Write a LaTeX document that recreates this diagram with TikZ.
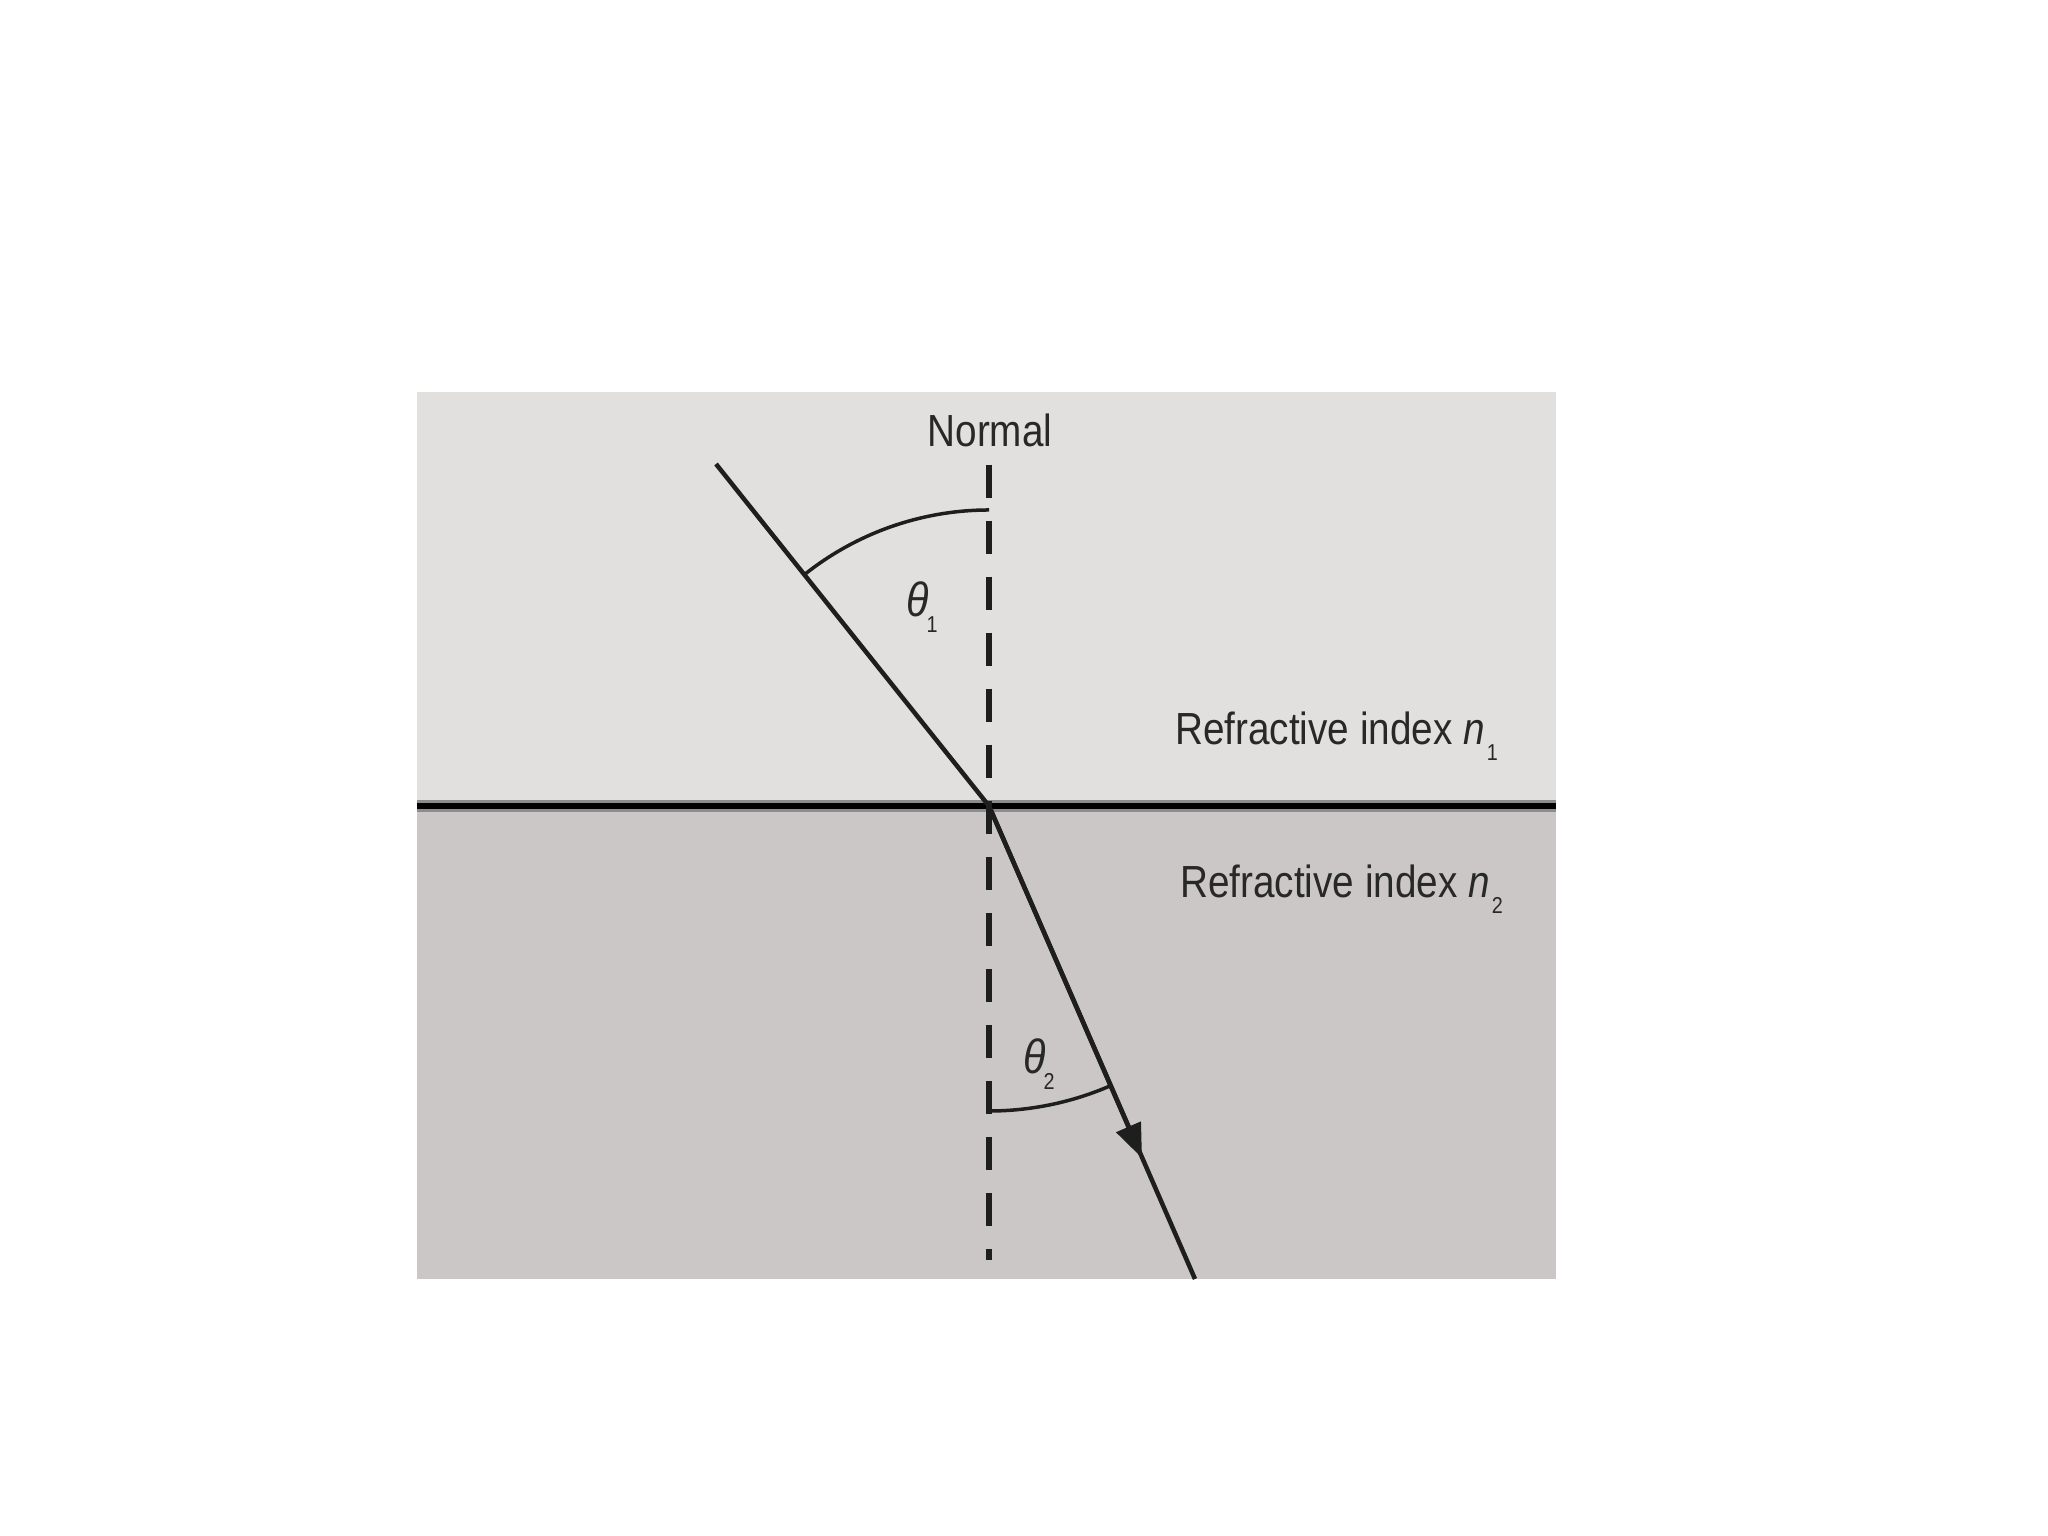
\documentclass[tikz,border=0pt]{standalone}
\usepackage{fontspec}
\setmainfont{Liberation Sans}[FakeStretch=0.86]
\usetikzlibrary{arrows.meta}
\definecolor{upper}{RGB}{226,223,223}
\definecolor{lower}{RGB}{203,199,199}
\definecolor{ink}{RGB}{30,30,30}
\definecolor{txt}{RGB}{40,40,40}
\newcommand{\lowsub}[2][2pt]{\kern#1\raisebox{-16pt}{\fontsize{23}{23}\selectfont\upshape #2}}
\tikzset{
  ray/.style={draw=ink, line width=4.5pt},
  anglearc/.style={draw=ink, line width=3.5pt},
  normalline/.style={draw=ink, line width=6pt, dash pattern=on 33pt off 23pt},
  lbl/.style={text=txt, font=\fontsize{45}{48}\selectfont, inner sep=0pt},
  anglelbl/.style={text=txt, font=\fontsize{48}{48}\selectfont\itshape, inner sep=0pt}
}
\begin{document}
\begin{tikzpicture}[x=1pt,y=1pt]
\useasboundingbox[fill=white] (0,0) rectangle (2048,1536);
% media
\fill[upper] (417,730) rectangle (1556,1144);
\fill[lower] (417,257) rectangle (1556,730);
% points
\coordinate (O) at (989,730);
\coordinate (S) at (716,1072);
\coordinate (E) at (1195,257);
\coordinate (A) at (1142,378);
\coordinate (NT) at (989,1071);
\coordinate (NB) at (989,276);
\coordinate (IL) at (417,730);
\coordinate (IR) at (1556,730);
% interface
\draw[line width=12pt, draw=black!45] (IL) -- (IR);
\draw[line width=6pt, draw=black] (IL) -- (IR);
% normal
\draw[normalline] (NT) -- (NB);
% rays
\draw[ray] (S) -- (O);
\draw[ray] (O) -- (E);
\draw[ray, -{Triangle[length=34pt,width=26pt]}] (O) -- (A);
% angle arcs
\draw[anglearc] (989,1026) arc[start angle=90, end angle=128.6, radius=296];
\draw[anglearc] (989,425) arc[start angle=270, end angle=293.5, radius=305];
% labels
\node[lbl, anchor=center] (normal) at (990,1106) {Normal};
\node[anglelbl, anchor=center] (t1) at (922,929) {θ\lowsub[-2pt]{1}};
\node[anglelbl, anchor=center] (t2) at (1039,472) {θ\lowsub[-2pt]{2}};
\node[lbl, anchor=base west] (n1) at (1175,791) {Refractive index \textit{n}\lowsub{1}};
\node[lbl, anchor=base west] (n2) at (1180,638) {Refractive index \textit{n}\lowsub{2}};
\end{tikzpicture}
\end{document}
